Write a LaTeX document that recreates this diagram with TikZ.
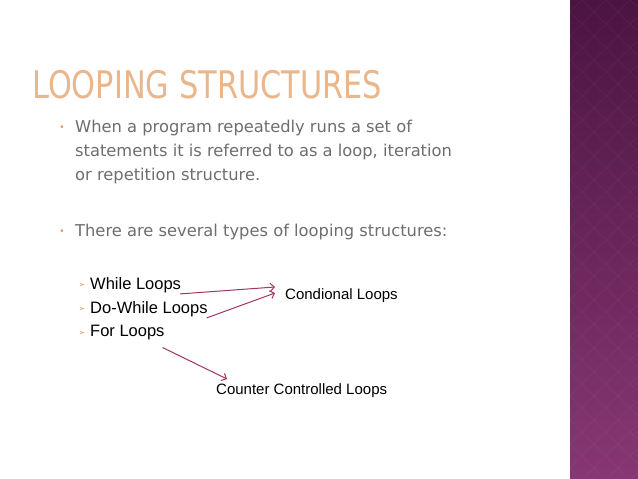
\documentclass[tikz,border=0pt]{standalone}
\usepackage{fontspec}
\setmainfont{DejaVu Sans}
\newfontfamily\arialfont{Liberation Sans}
\usetikzlibrary{arrows.meta}
\definecolor{slidegray}{RGB}{110,110,110}
\definecolor{titleorange}{RGB}{225,150,90}
\definecolor{arrowred}{RGB}{160,55,100}
\definecolor{stripdark}{RGB}{75,20,65}
\definecolor{striplight}{RGB}{135,55,115}
\tikzset{
  bullettext/.style={anchor=west, text=slidegray, font=\fontsize{16.3}{24}\selectfont, align=left, inner sep=0pt},
  subitem/.style={anchor=west, font=\arialfont\fontsize{16.5}{18}\selectfont, inner sep=1pt},
  label/.style={anchor=west, font=\arialfont\fontsize{15}{17}\selectfont, inner sep=1pt},
  linkarrow/.style={draw=arrowred, line width=1pt, -{Straight Barb[length=4pt,width=8pt]}}
}
\begin{document}
\begin{tikzpicture}[x=1pt,y=-1pt]
  \useasboundingbox (0,0) rectangle (638,479);
  \fill[white] (0,0) rectangle (638,479);

  % purple strip
  \shade[top color=stripdark, bottom color=striplight] (570,0) rectangle (638,479);
  \begin{scope}
    \clip (570,0) rectangle (638,479);
    \foreach \y in {0,24,...,480} {
      \foreach \x in {570,594,...,640} {
        \draw[white, opacity=0.06] (\x,\y+12) -- (\x+12,\y) -- (\x+24,\y+12) -- (\x+12,\y+24) -- cycle;
      }
    }
  \end{scope}

  % title
  \node[anchor=south west, inner sep=0pt, text=titleorange!70, font=\fontsize{38}{40}\selectfont\addfontfeature{FakeStretch=0.8}] (title) at (32,99) {LOOPING STRUCTURES};

  % bullets
  \node[text=titleorange, font=\small] (b1) at (62,128) {\textbullet};
  \node[bullettext] (t1) at (75,152) {When a program repeatedly runs a set of\\statements it is referred to as a loop, iteration\\or repetition structure.};
  \node[text=titleorange, font=\small] (b2) at (62,232) {\textbullet};
  \node[bullettext] (t2) at (75,232) {There are several types of looping structures:};

  % sub items
  \foreach \n/\y/\txt in {while/285/While Loops, dowhile/309/Do-While Loops, for/333/For Loops} {
    \node[text=titleorange, font=\fontsize{8}{9}\selectfont] at (82,\y) {\char"27A2};
    \node[subitem] (\n) at (89,\y) {\txt};
  }
  \node[label] (cond) at (284,296) {Condional Loops};
  \node[label] (counter) at (215,391) {Counter Controlled Loops};

  % arrows
  \coordinate (c1) at (275,287);
  \coordinate (c2) at (275,293);
  \coordinate (c3) at (227,379);
  \draw[linkarrow] ([xshift=-2pt]while.south east) -- (c1);
  \draw[linkarrow] ([xshift=-2pt]dowhile.south east) -- (c2);
  \draw[linkarrow] ([xshift=-3pt]for.south east) ++(0,6) -- (c3);
\end{tikzpicture}
\end{document}
